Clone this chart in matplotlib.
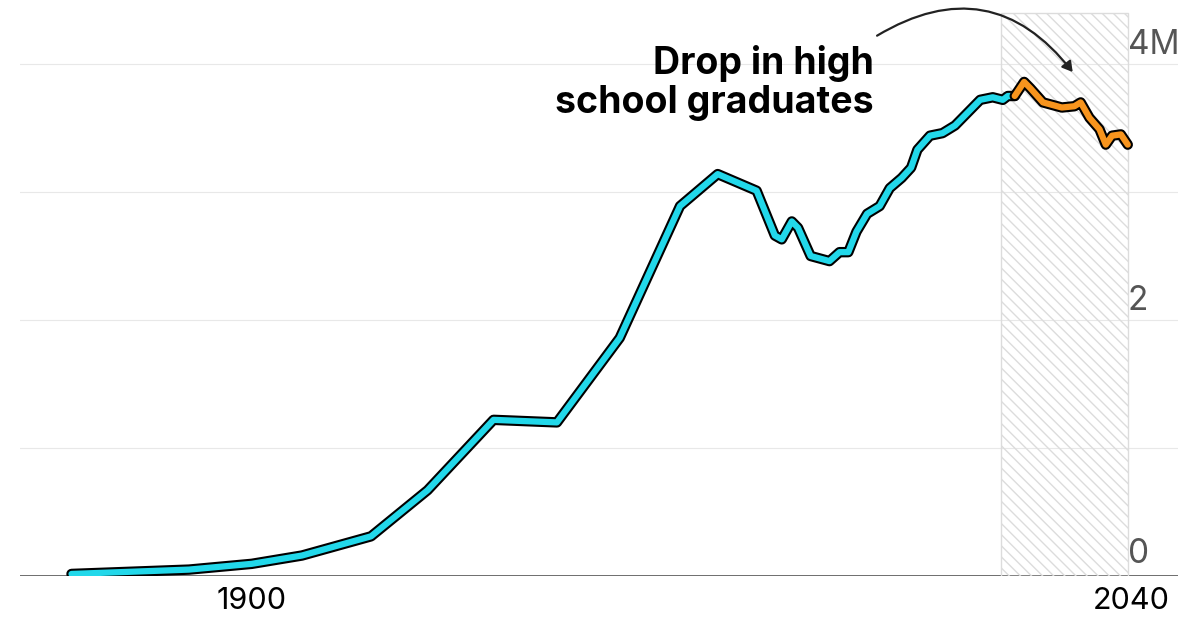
import matplotlib.pyplot as plt
import matplotlib.patheffects as pe
from matplotlib.patches import Rectangle

plt.rcParams['font.family'] = ['Inter', 'DejaVu Sans']
plt.rcParams['hatch.color'] = '#d9d9d9'

# graduates (millions), historical then projected
years_hist = [1871.3, 1890, 1900, 1908, 1919, 1928, 1938.5, 1948.6, 1958.6, 1968.2, 1974.2,
              1980.4, 1983.3, 1984.4, 1986, 1987, 1989, 1992, 1993.6, 1995, 1996.3, 1998,
              2000, 2001.6, 2003.5, 2005, 2006, 2008, 2010, 2012, 2016, 2018, 2019.6, 2020.4, 2021.5]
grads_hist = [0.016, 0.05, 0.095, 0.16, 0.31, 0.67, 1.22, 1.2, 1.86, 2.89, 3.14,
              3.01, 2.66, 2.63, 2.77, 2.72, 2.5, 2.46, 2.53, 2.53, 2.69, 2.83,
              2.89, 3.03, 3.11, 3.19, 3.33, 3.44, 3.46, 3.52, 3.72, 3.74, 3.72, 3.75, 3.75]
years_proj = [2021.5, 2023, 2024, 2026, 2029, 2031, 2032, 2033.4, 2035, 2036, 2037, 2038.4, 2039.5]
grads_proj = [3.75, 3.86, 3.81, 3.70, 3.66, 3.67, 3.70, 3.58, 3.49, 3.37, 3.44, 3.45, 3.37]

fig = plt.figure(figsize=(12, 6.3), dpi=100)
ax = fig.add_axes([20 / 1200, 54 / 630, 1158 / 1200, 576 / 630])
ax.set_xlim(1863.1, 2047.5)
ax.set_ylim(0, 4.5)

for g in [1, 2, 3, 4]:
    ax.axhline(g, color='#e8e8e8', lw=0.8, zorder=0)
ax.axhline(0, color='#555555', lw=1.2, zorder=1)

# shaded forecast region
ax.add_patch(Rectangle((2019.3, 0), 20.3, 4.4, facecolor='none', edgecolor='#dcdcdc',
                       hatch='\\\\\\', lw=1.0, zorder=1))

outline = [pe.Stroke(linewidth=7.5, foreground='black'), pe.Normal()]
ax.plot(years_hist, grads_hist, color='#22d8ea', lw=4.5, solid_capstyle='round',
        path_effects=outline, zorder=3)
ax.plot(years_proj, grads_proj, color='#f7941d', lw=4.5, solid_capstyle='round',
        path_effects=outline, zorder=3)

ax.text(1999, 3.85, 'Drop in high\nschool graduates', ha='right', va='center',
        fontsize=27, fontweight='bold', linespacing=1.1)
ax.annotate('', xy=(2031, 3.92), xytext=(1999.2, 4.21),
            arrowprops=dict(arrowstyle='-|>,head_length=0.6,head_width=0.35', color='#222222',
                            lw=1.6, connectionstyle='arc3,rad=-0.45'), annotation_clip=False)

for lab, yy in [('0', 0.17), ('2', 2.15), ('4M', 4.15)]:
    ax.text(2039.5, yy, lab, ha='left', va='center', fontsize=24, color='#555555')

ax.set_xticks([1900, 2040])
ax.set_xticklabels(['1900', '2040'])
ax.tick_params(axis='x', length=0, labelsize=22, pad=8)
ax.set_yticks([])
for s in ax.spines.values():
    s.set_visible(False)

fig.savefig('out.png', dpi=100)
